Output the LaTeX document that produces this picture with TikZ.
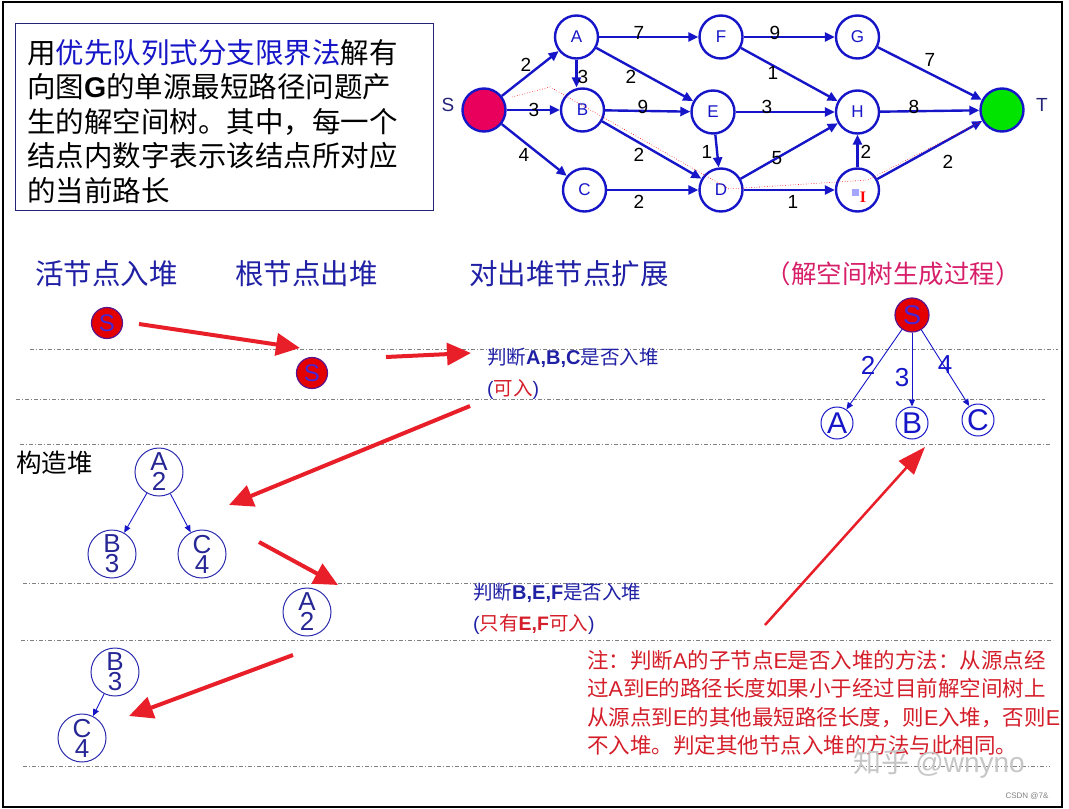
\documentclass[tikz,border=0pt]{standalone}
\usepackage{fontspec}
\setmainfont{Noto Sans CJK SC}
\newfontfamily\arial{Liberation Sans}
\newfontfamily\serifI{Liberation Serif}
\usetikzlibrary{arrows.meta}
\usepackage{xcolor}

\definecolor{gblue}{RGB}{22,22,200}
\definecolor{hblue}{RGB}{32,32,165}
\definecolor{boxblue}{RGB}{35,35,120}
\definecolor{sfill}{RGB}{232,0,92}
\definecolor{tfill}{RGB}{0,228,0}
\definecolor{arrred}{RGB}{232,30,40}
\definecolor{pinkhead}{RGB}{215,30,105}
\definecolor{notered}{RGB}{212,30,42}
\definecolor{treeblue}{RGB}{45,45,175}
\definecolor{sborder}{RGB}{90,20,140}
\definecolor{stext}{RGB}{70,40,215}

\newcommand\lat[1]{{\arial #1}}

\begin{document}
\begin{tikzpicture}[x=1pt, y=-1pt,
  gnode/.style={circle, draw=gblue, line width=2.4pt, fill=white, minimum size=43pt, inner sep=0pt, text=gblue, font=\arial\fontsize{17}{17}\selectfont},
  garc/.style={draw=gblue, line width=2.4pt, -{Triangle[length=10pt,width=9pt]}},
  weight/.style={inner sep=0pt, font=\arial\fontsize{19}{19}\selectfont},
  head/.style={inner sep=0pt, text=hblue, font=\fontsize{28.5}{28.5}\selectfont},
  snode/.style={circle, fill=red!90!black, draw=sborder, line width=1.2pt, minimum size=31pt, inner sep=0pt, text=stext, font=\arial\fontsize{24}{24}\selectfont},
  hnode/.style={circle, draw=treeblue, line width=1pt, minimum size=48pt, inner sep=0pt, align=center, text=treeblue!85!black, font=\arial\fontsize{26}{20}\selectfont},
  rnode/.style={circle, draw=gblue, line width=1pt, minimum size=32pt, inner sep=0pt, text=gblue, font=\arial\fontsize{30}{30}\selectfont},
  tarc/.style={draw=gblue, line width=0.9pt, -{Triangle[length=7pt,width=6pt]}},
  bigarrow/.style={draw=arrred, line width=4pt, -{Triangle[length=24pt,width=22pt]}},
  sepline/.style={draw=gray, line width=0.6pt, dash pattern=on 4pt off 2pt on 1pt off 2pt},
  small/.style={inner sep=0pt, anchor=west, text=hblue, font=\fontsize{19.5}{19.5}\selectfont},
]
\useasboundingbox (0,0) rectangle (1069,809);
\draw[line width=1.2pt] (3,2) rectangle (1062,807);

% title box
\node[draw=boxblue, line width=1pt, minimum width=418pt, minimum height=187pt] (introbox) at (224,116.5) {};
\node[anchor=north west, inner sep=0pt, align=left, font=\fontsize{28.5}{34.5}\selectfont] (intro) at (27,39)
  {用{\color{gblue}优先队列式分支限界法}解有\\向图{\arial\bfseries G}的单源最短路径问题产\\生的解空间树。其中，每一个\\结点内数字表示该结点所对应\\的当前路长};

% directed graph G
\node[gnode, fill=sfill] (S) at (484,110) {};
\node[gnode] (A) at (576.5,37) {A};
\node[gnode] (F) at (721,37) {F};
\node[gnode] (G) at (857.5,37) {G};
\node[gnode] (B) at (582.5,110) {B};
\node[gnode] (E) at (713,112) {E};
\node[gnode] (H) at (857.5,112) {H};
\node[gnode, fill=tfill] (T) at (1002,110) {};
\node[gnode] (C) at (584.5,190) {C};
\node[gnode] (D) at (721,190) {D};
\node[gnode] (I) at (857.5,190) {};
\node[font=\arial\fontsize{19}{19}\selectfont, text=boxblue] (Slab) at (448,105) {S};
\node[font=\arial\fontsize{19}{19}\selectfont, text=boxblue] (Tlab) at (1042,105) {T};
\node[fill=blue!35, minimum size=7pt, inner sep=0pt] (isq) at (855,192) {};
\node[text=red, inner sep=0pt, font=\serifI\bfseries\fontsize{16}{16}\selectfont] (icur) at (863,197) {I};

\draw[garc] (S) -- (A);
\draw[garc] (S) -- (B);
\draw[garc] (S) -- (C);
\draw[garc] (A.south) -- (A.south |- B.north);
\draw[garc] (A) -- (F);
\draw[garc] (A) -- (E);
\draw[garc] (F) -- (G);
\draw[garc] (F) -- (H);
\draw[garc] (G) -- (T);
\draw[garc] (B) -- (E);
\draw[garc] (E) -- (H);
\draw[garc] (H) -- (T);
\draw[garc] (B) -- (D);
\draw[garc] (E) -- (D);
\draw[garc] (C) -- (D);
\draw[garc] (D) -- (H);
\draw[garc] (D) -- (I);
\draw[garc] (I) -- (H);
\draw[garc] (I) -- (T);

\foreach \n/\x/\y/\w in {w1/526/65/2, w2/534/110/3, w3/524/155/4, w4/583/77/3, w5/631/77/2,
    w6/639/33/7, w7/775/33/9, w8/773/73/1, w9/930/60/7, w10/643/107/9, w11/767/107/3,
    w12/914/107/8, w13/639/155/2, w14/707/152/1, w15/777/158/5, w16/866/152/2,
    w17/948/162/2, w18/639/202/2, w19/793/202/1}
  \node[weight] (\n) at (\x,\y) {\w};

% shortest path S-B-D-I-T
\coordinate (p1) at (512,97);
\coordinate (p2) at (550,87);
\coordinate (p3) at (729,189);
\coordinate (p4) at (868,180);
\coordinate (p5) at (980,122);
\draw[red, line width=0.6pt, dotted] (p1) -- (p2) -- (p3) -- (p4) -- (p5);

% headings
\node[head] (h1) at (106.5,274) {活节点入堆};
\node[head] (h2) at (306.5,274) {根节点出堆};
\node[head] (h3) at (569,274) {对出堆节点扩展};
\node[head, text=pinkhead, font=\fontsize{25.5}{25.5}\selectfont] (h4) at (893,274) {（解空间树生成过程）};

% separators
\foreach \y/\xa/\xb in {349/30/1058, 399/16/1045, 444/20/1050, 583/23/1053, 640/21/1053, 766/23/1050}
  \draw[sepline] (\xa,\y) -- (\xb,\y);

% S in, S out
\node[snode] (s1) at (107,323) {S};
\node[snode] (s2) at (312,373) {S};

\node[small] (tabc) at (487,358) {判断{\arial\bfseries\fontsize{20}{20}\selectfont A,B,C}是否入堆};
\node[small] (tabc2) at (487,390) {\lat{(}{\color{notered}可入}\lat{)}};

% heap
\node[inner sep=0pt, font=\fontsize{25.5}{25.5}\selectfont] (heap) at (54.5,463) {构造堆};
\node[hnode] (a2) at (159,472) {A\\2};
\node[hnode] (b3) at (112,554) {B\\3};
\node[hnode] (c4) at (202,554) {C\\4};
\draw[tarc] (a2) -- (b3);
\draw[tarc] (a2) -- (c4);

\node[hnode] (a2b) at (307,612) {A\\2};
\node[small] (tbef) at (473,593) {判断{\arial\bfseries\fontsize{20}{20}\selectfont B,E,F}是否入堆};
\node[small] (tbef2) at (473,624) {\lat{(}{\color{notered}只有{\arial\bfseries E,F}可入}\lat{)}};

\node[hnode] (b3b) at (115,672) {B\\3};
\node[hnode] (c4b) at (82,738) {C\\4};
\draw[tarc] (b3b) -- (c4b);

% solution space tree
\node[snode, minimum size=34pt, font=\arial\fontsize{27}{27}\selectfont] (s3) at (912,315) {S};
\node[rnode] (ra) at (837,423) {A};
\node[rnode] (rb) at (912,423) {B};
\node[rnode] (rc) at (978,420) {C};
\draw[tarc] (s3) -- (ra);
\draw[tarc] (s3) -- (rb);
\draw[tarc] (s3) -- (rc);
\node[weight, text=gblue, font=\arial\fontsize{26}{26}\selectfont] (l2) at (868,365) {2};
\node[weight, text=gblue, font=\arial\fontsize{26}{26}\selectfont] (l3) at (902,378) {3};
\node[weight, text=gblue, font=\arial\fontsize{26}{26}\selectfont] (l4) at (945,365) {4};

% note
\node[anchor=north west, inner sep=0pt, align=left, text=notered, font=\fontsize{21.5}{28.5}\selectfont] (note) at (587,650)
  {注：判断\lat{A}的子节点\lat{E}是否入堆的方法：从源点经\\过\lat{A}到\lat{E}的路径长度如果小于经过目前解空间树上\\从源点到\lat{E}的其他最短路径长度，则\lat{E}入堆，否则\lat{E}\\不入堆。判定其他节点入堆的方法与此相同。};

% red arrows
\coordinate (r1a) at (139,324);  \coordinate (r1b) at (300,348);
\coordinate (r2a) at (386,357);  \coordinate (r2b) at (471,353);
\coordinate (r3a) at (470,406);  \coordinate (r3b) at (229,505);
\coordinate (r4a) at (259,542);  \coordinate (r4b) at (338,585);
\coordinate (r5a) at (293,655);  \coordinate (r5b) at (129,716);
\coordinate (r6a) at (765,625);  \coordinate (r6b) at (925,447);
\draw[bigarrow] (r1a) -- (r1b);
\draw[bigarrow] (r2a) -- (r2b);
\draw[bigarrow] (r3a) -- (r3b);
\draw[bigarrow] (r4a) -- (r4b);
\draw[bigarrow] (r5a) -- (r5b);
\draw[bigarrow, line width=2.5pt, -{Triangle[length=28pt,width=20pt]}] (r6a) -- (r6b);

% watermarks
\node[text=gray!45, inner sep=0pt, font=\fontsize{28}{28}\selectfont] (wm) at (939,764) {知乎 \lat{@wnyno}};
\node[text=gray, inner sep=0pt, font=\arial\fontsize{8}{8}\selectfont] (csdn) at (1027,796) {CSDN @7\&};
\end{tikzpicture}
\end{document}
